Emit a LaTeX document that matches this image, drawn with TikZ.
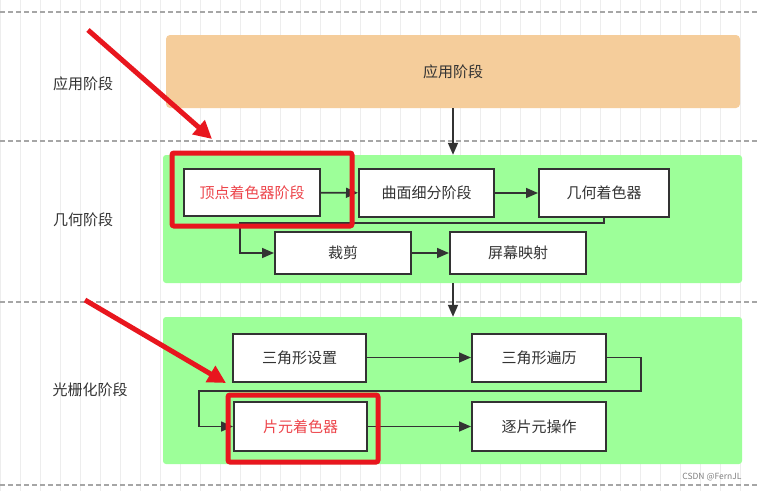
\documentclass[tikz,border=0pt]{standalone}
\usepackage{fontspec}
\setmainfont{Noto Sans CJK SC}
\usetikzlibrary{arrows.meta}
\definecolor{gfill}{HTML}{9DFF99}
\definecolor{ofill}{HTML}{F5CD9B}
\definecolor{hred}{HTML}{E8161E}
\definecolor{txt}{HTML}{333333}
\begin{document}
\begin{tikzpicture}[x=1pt,y=-1pt,
  box/.style={draw=txt,line width=2pt,fill=white,text=txt,font=\fontsize{15}{17}\selectfont},
  conn/.style={draw=txt,line width=1.6pt,-{Triangle[length=12pt,width=10pt]}},
  hl/.style={draw=hred,line width=5pt,rounded corners=2pt},
  redarrow/.style={draw=hred,line width=5pt,-{Triangle[length=18pt,width=18pt]}},
  lab/.style={text=txt,font=\fontsize{15}{17}\selectfont},
  sepline/.style={draw=gray!70,line width=1.3pt,dash pattern=on 5pt off 3pt}]
\useasboundingbox (0,0) rectangle (758,491);
\fill[white] (0,0) rectangle (758,491);
\draw[black!7,line width=0.5pt] (0,0) grid[step=20] (758,491);
\draw[sepline] (0,12)--(758,12);
\draw[sepline] (0,141)--(758,141);
\draw[sepline] (0,302)--(758,302);
\draw[sepline] (0,485)--(758,485);
\node[lab] (l1) at (83,84) {应用阶段};
\node[lab] (l2) at (83,220) {几何阶段};
\node[lab] (l3) at (90,390) {光栅化阶段};
\node[fill=ofill,rounded corners=4pt,minimum width=574pt,minimum height=73pt,lab,inner sep=0] (app) at (453,71.5) {应用阶段};
\node[fill=gfill,rounded corners=3pt,minimum width=579pt,minimum height=128pt,inner sep=0] (g1) at (452.5,219) {};
\node[fill=gfill,rounded corners=3pt,minimum width=579pt,minimum height=147pt,inner sep=0] (g2) at (452.5,390.5) {};
\draw[conn] (app.south) -- (app.south |- g1.north);
\draw[conn] (app.south |- g1.south) -- (app.south |- g2.north);
\node[box,minimum width=136pt,minimum height=47pt,inner sep=0,text=hred!80] (vs) at (252,192.5) {顶点着色器阶段};
\node[box,minimum width=135pt,minimum height=48pt,inner sep=0] (ts) at (426.5,193) {曲面细分阶段};
\node[box,minimum width=130pt,minimum height=48pt,inner sep=0] (gs) at (604,193) {几何着色器};
\node[box,minimum width=136pt,minimum height=42pt,inner sep=0] (clip) at (343,253) {裁剪};
\node[box,minimum width=136pt,minimum height=42pt,inner sep=0] (sm) at (518,253) {屏幕映射};
\draw[conn] (vs) -- (ts);
\draw[conn] (ts) -- (gs);
\coordinate (c1) at (604,223);
\coordinate (c2) at (240,223);
\draw[conn] (gs.south) -- (c1) -- (c2) |- (clip.west);
\draw[conn] (clip) -- (sm);
\node[box,minimum width=133pt,minimum height=48pt,inner sep=0] (tsu) at (299.5,357.5) {三角形设置};
\node[box,minimum width=134pt,minimum height=48pt,inner sep=0] (tt) at (539,357.5) {三角形遍历};
\node[box,minimum width=133pt,minimum height=49pt,inner sep=0,text=hred!80] (fs) at (300.5,426.5) {片元着色器};
\node[box,minimum width=134pt,minimum height=49pt,inner sep=0] (po) at (539,426.5) {逐片元操作};
\draw[conn] (tsu) -- (tt);
\coordinate (d1) at (641,357.5);
\coordinate (d2) at (641,391);
\coordinate (d3) at (199,391);
\draw[conn] (tt.east) -- (d1) -- (d2) -- (d3) |- (fs.west);
\draw[conn] (fs) -- (po);
\draw[hl] (172,153) rectangle (352,226);
\draw[hl] (228,395) rectangle (378,462);
\coordinate (a1) at (88,30);
\coordinate (a2) at (212,139);
\coordinate (b1) at (85,300);
\coordinate (b2) at (226,383);
\draw[redarrow] (a1) -- (a2);
\draw[redarrow] (b1) -- (b2);
\node[text=gray,font=\fontsize{8.5}{10}\selectfont,anchor=east] (wm) at (745,477) {CSDN @FernJL};
\end{tikzpicture}
\end{document}
